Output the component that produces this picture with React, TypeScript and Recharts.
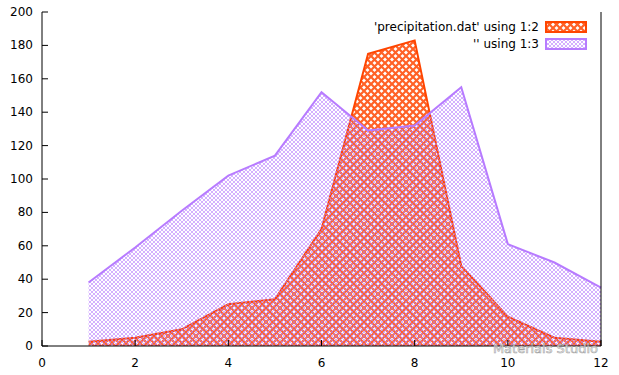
import React from 'react';
import { AreaChart, Area, XAxis, YAxis } from 'recharts';

const months = [1, 2, 3, 4, 5, 6, 7, 8, 9, 10, 11, 12];
const col2 = [2.5, 5, 10, 25, 28, 70, 175, 183, 48, 17.5, 5, 2.5];
const col3 = [38, 59, 81, 102, 114, 152, 129, 132, 155, 61, 50, 35];
const xTicks = [0, 2, 4, 6, 8, 10, 12];
const yTicks = [0, 20, 40, 60, 80, 100, 120, 140, 160, 180, 200];
const legendLabels = ["'precipitation.dat' using 1:2", "'' using 1:3"];

const RED = '#ff4500';
const PURPLE = '#b77bff';
const FONT = '"DejaVu Sans", sans-serif';

const data = months.map((m, i) => ({ x: m, a: col2[i], b: col3[i] }));

const BottomTick = (props: any) => {
  const { x, y, payload } = props;
  return (
    <g>
      <line x1={x} y1={y} x2={x} y2={y - 6} stroke="#000" strokeWidth={1} />
      <text x={x} y={y + 21} textAnchor="middle" fontSize={12} fontFamily={FONT} fill="#000">
        {payload.value}
      </text>
    </g>
  );
};

const TopTick = (props: any) => {
  const { x, y } = props;
  return <line x1={x} y1={y} x2={x} y2={y + 6} stroke="#000" strokeWidth={1} />;
};

const LeftTick = (props: any) => {
  const { x, y, payload } = props;
  return (
    <g>
      <line x1={x} y1={y} x2={x + 6} y2={y} stroke="#000" strokeWidth={1} />
      <text x={x - 9} y={y + 4} textAnchor="end" fontSize={12} fontFamily={FONT} fill="#000">
        {payload.value}
      </text>
    </g>
  );
};

const RightTick = (props: any) => {
  const { x, y } = props;
  return <line x1={x} y1={y} x2={x - 6} y2={y} stroke="#000" strokeWidth={1} />;
};

const Patterns = () => (
  <defs>
    <pattern id="redHatch" width="7" height="7" patternUnits="userSpaceOnUse">
      <path d="M-1,-1 L8,8 M8,-1 L-1,8" stroke={RED} strokeWidth={2.2} strokeOpacity={0.85} />
    </pattern>
    <pattern id="purpleHatch" width="4" height="4" patternUnits="userSpaceOnUse">
      <path d="M-1,-1 L5,5 M5,-1 L-1,5" stroke={PURPLE} strokeWidth={0.8} strokeOpacity={0.75} />
    </pattern>
  </defs>
);

export default function App() {
  return (
    <div style={{ position: 'absolute', left: 0, top: 0, width: 619, height: 375, background: '#fff' }}>
      <AreaChart width={619} height={375} data={data} margin={{ top: 12, right: 0, bottom: 0, left: 0 }}>
        <Patterns />
        <XAxis
          type="number"
          dataKey="x"
          domain={[0, 12]}
          ticks={xTicks}
          height={29}
          tickSize={0}
          tickMargin={0}
          tickLine={false}
          axisLine={{ stroke: '#000' }}
          tick={<BottomTick />}
          interval={0}
        />
        <XAxis
          xAxisId="top"
          orientation="top"
          type="number"
          dataKey="x"
          domain={[0, 12]}
          ticks={xTicks}
          height={0}
          tickSize={0}
          tickMargin={0}
          tickLine={false}
          axisLine={{ stroke: '#000' }}
          tick={<TopTick />}
          interval={0}
        />
        <YAxis
          type="number"
          domain={[0, 200]}
          ticks={yTicks}
          width={42}
          tickSize={0}
          tickMargin={0}
          tickLine={false}
          axisLine={{ stroke: '#000' }}
          tick={<LeftTick />}
          interval={0}
        />
        <YAxis
          yAxisId="right"
          orientation="right"
          type="number"
          domain={[0, 200]}
          ticks={yTicks}
          width={18}
          tickSize={0}
          tickMargin={0}
          tickLine={false}
          axisLine={{ stroke: '#000' }}
          tick={<RightTick />}
          interval={0}
        />
        <Area
          type="linear"
          dataKey="a"
          stroke={RED}
          strokeWidth={2}
          fill="url(#redHatch)"
          fillOpacity={1}
          baseValue={0}
          dot={false}
          activeDot={false}
          isAnimationActive={false}
        />
        <Area
          type="linear"
          dataKey="b"
          stroke={PURPLE}
          strokeWidth={2}
          fill="url(#purpleHatch)"
          fillOpacity={1}
          baseValue={0}
          dot={false}
          activeDot={false}
          isAnimationActive={false}
        />
      </AreaChart>
      <svg width={619} height={375} style={{ position: 'absolute', left: 0, top: 0, pointerEvents: 'none' }}>
        <Patterns />
        <text x={539} y={31} textAnchor="end" fontSize={12} fontFamily={FONT} fill="#000">
          {legendLabels[0]}
        </text>
        <rect x={546} y={22} width={40} height={10} fill="url(#redHatch)" stroke={RED} strokeWidth={2} />
        <text x={539} y={48} textAnchor="end" fontSize={12} fontFamily={FONT} fill="#000">
          {legendLabels[1]}
        </text>
        <rect x={546} y={39} width={40} height={10} fill="url(#purpleHatch)" stroke={PURPLE} strokeWidth={2} />
        <text
          x={598}
          y={353}
          textAnchor="end"
          fontSize={13}
          fontFamily={FONT}
          fill="#fff"
          stroke="#999"
          strokeWidth={0.6}
          opacity={0.9}
        >
          Materials Studio
        </text>
      </svg>
    </div>
  );
}
